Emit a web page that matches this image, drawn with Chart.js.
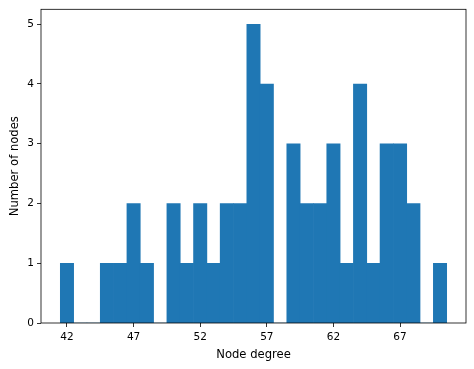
<!DOCTYPE html>
<html>
<head>
<meta charset="utf-8">
<script src="https://cdn.jsdelivr.net/npm/chart.js@4.4.1/dist/chart.umd.min.js"></script>
<style>
  html, body { margin: 0; padding: 0; background: #fff; }
  #wrap { width: 474px; height: 369px; }
</style>
</head>
<body>
<div id="wrap"><canvas id="myChart" width="474" height="369"></canvas></div>
<script>
// histogram of node degrees (one bin per integer degree)
const degrees = [42, 43, 44, 45, 46, 47, 48, 49, 50, 51, 52, 53, 54, 55, 56, 57, 58, 59, 60, 61, 62, 63, 64, 65, 66, 67, 68, 69, 70]
const counts = [1, 0, 0, 1, 1, 2, 1, 0, 2, 1, 2, 1, 2, 2, 5, 4, 0, 3, 2, 2, 3, 1, 4, 1, 3, 3, 2, 0, 1]
const xTicks = [42, 47, 52, 57, 62, 67]
const yTicks = [0, 1, 2, 3, 4, 5]

// matplotlib style 5% margins around the bin edges
const lo = degrees[0] - 0.5
const hi = degrees[degrees.length - 1] + 0.5
const xPad = (hi - lo) * 0.05
const yMax = Math.max(...counts) * 1.05

Chart.defaults.font.family = 'DejaVu Sans'
Chart.defaults.font.size = 10.5
Chart.defaults.color = '#000'

const frame = {
  id: 'frame',
  afterDatasetsDraw (chart) {
    const { ctx, chartArea } = chart
    ctx.save()
    ctx.strokeStyle = '#000'
    ctx.lineWidth = 0.8
    ctx.strokeRect(chartArea.left, chartArea.top, chartArea.right - chartArea.left, chartArea.bottom - chartArea.top)
    ctx.restore()
  }
}

new Chart(document.getElementById('myChart'), {
  type: 'bar',
  data: {
    datasets: [{
      label: 'Nodes',
      data: degrees.map((d, i) => ({ x: d, y: counts[i] })),
      backgroundColor: '#1f77b4',
      borderWidth: 0,
      barPercentage: 1,
      categoryPercentage: 1
    }]
  },
  options: {
    responsive: false,
    animation: false,
    layout: { padding: { top: 8, right: 8, left: 0, bottom: 0 } },
    plugins: { legend: { display: false }, tooltip: { enabled: false } },
    scales: {
      x: {
        type: 'linear',
        offset: false,
        min: lo - xPad,
        max: hi + xPad,
        afterBuildTicks: s => { s.ticks = xTicks.map(v => ({ value: v })) },
        afterFit: s => { s.height = 46 },
        grid: { offset: false, drawOnChartArea: false, drawTicks: true, tickLength: 4, color: '#000', lineWidth: 0.8 },
        border: { display: false },
        ticks: { padding: 4, maxRotation: 0, autoSkip: false },
        title: { display: true, text: 'Node degree', font: { size: 11.6 }, padding: { top: 2, bottom: 7 } }
      },
      y: {
        min: 0,
        max: yMax,
        afterBuildTicks: s => { s.ticks = yTicks.map(v => ({ value: v })) },
        afterFit: s => { s.width = 41 },
        grid: { drawOnChartArea: false, drawTicks: true, tickLength: 4, color: '#000', lineWidth: 0.8 },
        border: { display: false },
        ticks: { padding: 3 },
        title: { display: true, text: 'Number of nodes', font: { size: 11.6 }, padding: { top: 8, bottom: 2 } }
      }
    }
  },
  plugins: [frame]
})
</script>
</body>
</html>
